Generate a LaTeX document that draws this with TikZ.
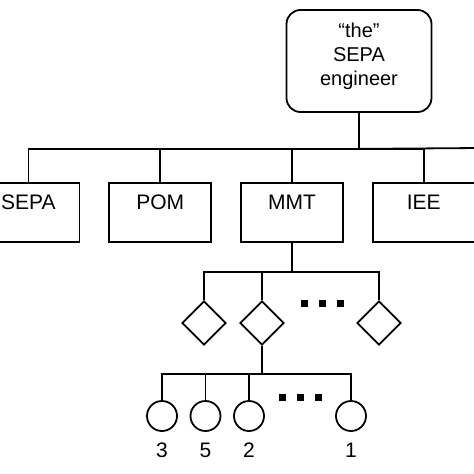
\documentclass[tikz,border=0pt]{standalone}
\usepackage{fontspec}
\setmainfont{Liberation Sans}
\usetikzlibrary{positioning,shapes.geometric}
\tikzset{
  line/.style    = {line width=1.8pt},
  box/.style     = {draw, line width=1.8pt, align=center, font=\fontsize{21}{24}\selectfont},
  headbox/.style = {box, rounded corners=14pt, minimum width=145pt, minimum height=102pt, font=\fontsize{20}{24}\selectfont},
  unitbox/.style = {box, minimum width=102pt, inner sep=4pt, text height=22pt, text depth=29pt},
  gem/.style     = {draw, diamond, line width=1.8pt, inner sep=0pt, minimum width=44pt, minimum height=44pt},
  ball/.style    = {draw, circle, line width=1.8pt, inner sep=0pt, minimum size=30pt},
  dot/.style     = {fill, inner sep=0pt, minimum size=7pt},
  num/.style     = {inner sep=0pt, outer sep=0pt, font=\fontsize{21}{24}\selectfont},
}
\begin{document}
\begin{tikzpicture}[x=1pt, y=-1pt, node distance=28pt]
  \useasboundingbox (0,0) rectangle (474,474);
  \clip (0,0) rectangle (474,474);
  % top level
  \node[headbox] (head) at (359,61) {“the”\\SEPA\\engineer\\[-10pt]\mbox{}};
  \coordinate[below=36pt of head] (bus);
  \coordinate (busend) at (480,148);
  % second level
  \node[unitbox] (mmt) at (292,212.5) {MMT};
  \node[unitbox, left=of mmt] (pom) {POM};
  \node[unitbox, left=of pom] (sepa) {SEPA};
  \node[unitbox, right=of mmt] (iee) {IEE};
  \draw[line] (head.south) -- (bus) -- (busend);
  \draw[line] (sepa.north) |- (bus);
  \draw[line] (pom.north) |- (bus);
  \draw[line] (mmt.north) |- (bus);
  \draw[line] (iee.north) |- (bus);
  % diamonds under MMT
  \coordinate[below=29pt of mmt] (mmtbus);
  \node[gem] (dm1) at (204,323) {};
  \node[gem] (dm2) at (262,323) {};
  \node[gem] (dm3) at (379,323) {};
  \node[dot] (da) at (304,303) {};
  \node[dot] (db) at (322,303) {};
  \node[dot] (dc) at (340,303) {};
  \draw[line] (mmt.south) -- (mmtbus);
  \draw[line] (dm1.north) |- (mmtbus);
  \draw[line] (dm2.north) |- (mmtbus);
  \draw[line] (dm3.north) |- (mmtbus);
  % circles under second diamond
  \coordinate[below=28pt of dm2] (dmbus);
  \node[ball] (c1) at (162,416) {};
  \node[ball] (c2) at (205.5,416) {};
  \node[ball] (c3) at (249,416) {};
  \node[ball] (c4) at (351,416) {};
  \node[dot] (ca) at (282,397) {};
  \node[dot] (cb) at (300,397) {};
  \node[dot] (cc) at (318,397) {};
  \draw[line] (dm2.south) -- (dmbus);
  \draw[line] (c1.north) |- (dmbus);
  \draw[line] (c2.north) |- (dmbus);
  \draw[line] (c3.north) |- (dmbus);
  \draw[line] (c4.north) |- (dmbus);
  \node[num, below=11pt of c1] (n1) {3};
  \node[num, below=11pt of c2] (n2) {5};
  \node[num, below=11pt of c3] (n3) {2};
  \node[num, below=11pt of c4] (n4) {1};
\end{tikzpicture}
\end{document}
